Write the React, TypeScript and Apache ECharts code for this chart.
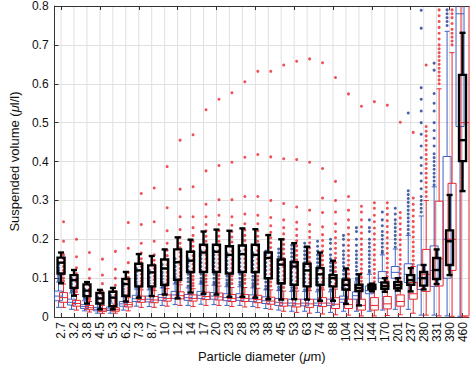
import React, { useEffect, useRef } from "react";
import * as echarts from "echarts";

const categories = ["2.7","3.2","3.8","4.5","5.3","6.2","7.3","8.7","10","12","14","17","20","23","28","33","38","45","53","63","74","88","104","122","144","170","201","237","280","331","390","460"];

// [lower whisker, q1, median, q3, upper whisker]
const blackStats = [
  [0.087,0.112,0.14,0.153,0.166],[0.055,0.075,0.095,0.108,0.121],[0.035,0.054,0.068,0.084,0.09],
  [0.02,0.035,0.048,0.062,0.07],[0.02,0.028,0.05,0.065,0.075],[0.04,0.055,0.085,0.098,0.116],
  [0.05,0.079,0.12,0.137,0.162],[0.054,0.079,0.115,0.133,0.157],[0.058,0.083,0.125,0.148,0.174],
  [0.048,0.096,0.141,0.174,0.205],[0.063,0.116,0.145,0.168,0.199],[0.06,0.116,0.166,0.186,0.22],
  [0.058,0.116,0.168,0.186,0.225],[0.052,0.112,0.16,0.182,0.222],[0.052,0.116,0.162,0.184,0.228],
  [0.05,0.116,0.16,0.186,0.226],[0.046,0.1,0.152,0.166,0.211],[0.045,0.087,0.135,0.148,0.2],
  [0.046,0.083,0.13,0.141,0.19],[0.045,0.079,0.12,0.137,0.181],[0.042,0.083,0.11,0.126,0.166],
  [0.042,0.079,0.1,0.108,0.145],[0.034,0.071,0.083,0.096,0.125],[0.03,0.067,0.075,0.083,0.11],
  [0.066,0.072,0.078,0.083,0.086],[0.065,0.073,0.08,0.089,0.1],[0.068,0.074,0.082,0.09,0.1],
  [0.066,0.083,0.095,0.108,0.126],[0.071,0.081,0.1,0.116,0.134],[0.085,0.098,0.121,0.152,0.174],
  [0.108,0.134,0.195,0.223,0.314],[0.324,0.401,0.455,0.623,0.731]
];

const blueStats = [
  [0.025,0.042,0.054,0.067,0.09],[0.02,0.031,0.038,0.046,0.062],[0.016,0.022,0.027,0.032,0.042],
  [0.01,0.016,0.02,0.025,0.034],[0.01,0.017,0.021,0.026,0.036],[0.018,0.028,0.034,0.04,0.052],
  [0.028,0.04,0.047,0.056,0.072],[0.027,0.039,0.046,0.054,0.07],[0.03,0.043,0.05,0.058,0.075],
  [0.032,0.048,0.057,0.066,0.085],[0.03,0.043,0.05,0.058,0.075],[0.033,0.048,0.056,0.066,0.085],
  [0.032,0.046,0.054,0.063,0.082],[0.03,0.042,0.05,0.06,0.078],[0.03,0.043,0.05,0.06,0.078],
  [0.027,0.04,0.047,0.057,0.075],[0.022,0.035,0.042,0.052,0.07],[0.018,0.03,0.038,0.048,0.068],
  [0.015,0.029,0.036,0.046,0.066],[0.015,0.029,0.036,0.046,0.066],[0.012,0.03,0.036,0.046,0.065],
  [0.012,0.03,0.036,0.046,0.065],[0.015,0.038,0.046,0.054,0.075],[0.015,0.046,0.055,0.065,0.09],
  [0.015,0.06,0.068,0.08,0.11],[0.018,0.089,0.1,0.117,0.16],[0.02,0.1,0.115,0.13,0.175],
  [0.02,0.089,0.11,0.137,0.21],[0.005,0.071,0.1,0.134,0.26],[0.005,0.079,0.12,0.183,0.335],
  [0.003,0.1,0.2,0.413,0.735],[0.002,0.49,0.78,0.95,1.2]
];

const redStats = [
  [0.025,0.038,0.05,0.063,0.085],[0.018,0.028,0.035,0.043,0.058],[0.013,0.019,0.024,0.03,0.04],
  [0.009,0.014,0.018,0.022,0.03],[0.01,0.015,0.019,0.024,0.033],[0.016,0.026,0.032,0.038,0.05],
  [0.025,0.038,0.045,0.054,0.07],[0.025,0.037,0.044,0.053,0.068],[0.028,0.041,0.048,0.057,0.073],
  [0.03,0.047,0.055,0.065,0.083],[0.027,0.041,0.048,0.057,0.073],[0.03,0.045,0.053,0.064,0.082],
  [0.03,0.044,0.052,0.062,0.08],[0.027,0.04,0.048,0.058,0.076],[0.026,0.04,0.048,0.058,0.076],
  [0.024,0.037,0.045,0.056,0.074],[0.02,0.033,0.041,0.051,0.07],[0.015,0.028,0.036,0.047,0.067],
  [0.012,0.026,0.034,0.046,0.067],[0.01,0.025,0.034,0.046,0.068],[0.008,0.027,0.036,0.05,0.07],
  [0.006,0.022,0.033,0.05,0.072],[0.005,0.022,0.032,0.046,0.068],[0.003,0.018,0.03,0.046,0.07],
  [0.003,0.018,0.03,0.05,0.075],[0.004,0.021,0.034,0.053,0.08],[0.006,0.028,0.04,0.057,0.085],
  [0.01,0.046,0.06,0.089,0.13],[0.005,0.066,0.11,0.174,0.3],[0.003,0.08,0.15,0.298,0.587],
  [0.002,0.12,0.2,0.344,0.68],[0.0,0.003,0.5,1.1,1.5]
];

const blueOutliers = [
  [0.135,0.127,0.12,0.113,0.106,0.099,0.093],
  [0.1,0.092,0.085,0.078,0.071,0.066],
  [0.072,0.065,0.058,0.052,0.047],
  [0.052,0.046,0.04,0.037],
  [0.056,0.05,0.044,0.04],
  [0.088,0.08,0.072,0.065,0.058,0.054],
  [0.125,0.116,0.107,0.099,0.091,0.084,0.077],
  [0.12,0.111,0.102,0.094,0.087,0.08,0.074],
  [0.135,0.125,0.115,0.106,0.098,0.09,0.083,0.078],
  [0.15,0.14,0.13,0.12,0.111,0.103,0.095,0.089],
  [0.15,0.14,0.13,0.12,0.11,0.1,0.091,0.08],
  [0.17,0.16,0.15,0.14,0.13,0.12,0.11,0.1,0.092,0.088],
  [0.17,0.16,0.15,0.14,0.13,0.12,0.11,0.1,0.09,0.085],
  [0.165,0.155,0.145,0.135,0.125,0.115,0.105,0.095,0.087,0.082],
  [0.17,0.16,0.15,0.14,0.13,0.12,0.11,0.1,0.09,0.083],
  [0.165,0.155,0.145,0.135,0.125,0.115,0.105,0.095,0.086,0.079],
  [0.17,0.16,0.15,0.14,0.13,0.12,0.11,0.1,0.09,0.08,0.073],
  [0.175,0.165,0.155,0.145,0.135,0.125,0.115,0.105,0.095,0.085,0.077,0.071],
  [0.185,0.175,0.165,0.155,0.145,0.135,0.125,0.115,0.105,0.095,0.085,0.076,0.069],
  [0.19,0.18,0.17,0.16,0.15,0.14,0.13,0.12,0.11,0.1,0.09,0.08,0.07],
  [0.195,0.182,0.17,0.16,0.15,0.14,0.13,0.12,0.11,0.1,0.09,0.08,0.07],
  [0.2,0.19,0.175,0.16,0.15,0.14,0.13,0.12,0.11,0.1,0.09,0.08,0.07],
  [0.21,0.2,0.185,0.17,0.16,0.15,0.14,0.13,0.12,0.11,0.1,0.09,0.08],
  [0.23,0.22,0.2,0.185,0.17,0.16,0.15,0.14,0.13,0.12,0.11,0.1,0.095],
  [0.25,0.23,0.22,0.2,0.19,0.18,0.17,0.16,0.15,0.14,0.13,0.12,0.115],
  [0.27,0.25,0.235,0.22,0.21,0.2,0.19,0.18,0.17,0.165],
  [0.28,0.265,0.25,0.24,0.23,0.22,0.21,0.2,0.19,0.18],
  [0.525,0.325,0.315,0.305,0.295,0.285,0.275,0.265,0.255,0.245,0.235,0.225,0.215],
  [0.789,0.743,0.59,0.56,0.53,0.5,0.47,0.44,0.41,0.39,0.37,0.35,0.33,0.31,0.3,0.29,0.28,0.27],
  [0.653,0.635,0.575,0.55,0.53,0.5,0.48,0.46,0.44,0.42,0.41,0.4,0.39,0.38,0.37,0.36,0.35,0.34],
  [0.79,0.78,0.77,0.76,0.75],
  []
];

const redOutliers = [
  [0.245,0.195,0.16,0.15,0.14,0.13,0.12,0.11,0.1,0.092],
  [0.2,0.155,0.127,0.112,0.1,0.09,0.08,0.072,0.065],
  [0.166,0.123,0.1,0.082,0.072,0.063,0.056,0.05,0.045],
  [0.149,0.108,0.086,0.066,0.056,0.048,0.042,0.036],
  [0.169,0.123,0.1,0.082,0.066,0.056,0.048,0.042,0.037],
  [0.243,0.177,0.14,0.115,0.102,0.092,0.083,0.075,0.068,0.061,0.055],
  [0.318,0.238,0.19,0.165,0.15,0.14,0.13,0.12,0.11,0.1,0.092,0.084,0.076],
  [0.332,0.245,0.195,0.16,0.146,0.135,0.125,0.115,0.105,0.096,0.087,0.078,0.072],
  [0.387,0.281,0.222,0.19,0.172,0.158,0.146,0.135,0.125,0.115,0.105,0.096,0.088,0.08],
  [0.455,0.329,0.258,0.225,0.205,0.19,0.178,0.166,0.155,0.145,0.135,0.125,0.115,0.106,0.097,0.09],
  [0.469,0.335,0.258,0.23,0.21,0.195,0.182,0.17,0.158,0.147,0.136,0.125,0.115,0.105,0.096,0.087,0.08],
  [0.533,0.376,0.29,0.258,0.238,0.222,0.208,0.195,0.183,0.171,0.16,0.149,0.138,0.127,0.117,0.107,0.098,0.09],
  [0.56,0.39,0.302,0.262,0.238,0.222,0.208,0.195,0.183,0.171,0.16,0.149,0.138,0.127,0.117,0.107,0.098,0.088],
  [0.577,0.398,0.302,0.258,0.236,0.22,0.206,0.193,0.181,0.17,0.159,0.148,0.137,0.126,0.116,0.106,0.096,0.086],
  [0.605,0.411,0.31,0.265,0.24,0.224,0.21,0.197,0.185,0.173,0.161,0.15,0.139,0.128,0.117,0.107,0.097,0.087],
  [0.632,0.418,0.31,0.262,0.24,0.222,0.208,0.195,0.183,0.171,0.16,0.149,0.138,0.127,0.116,0.105,0.095,0.085],
  [0.632,0.412,0.3,0.256,0.235,0.218,0.204,0.191,0.179,0.167,0.155,0.144,0.133,0.122,0.111,0.1,0.09,0.08],
  [0.648,0.407,0.292,0.25,0.23,0.214,0.2,0.187,0.175,0.163,0.151,0.14,0.129,0.118,0.107,0.096,0.086,0.076],
  [0.658,0.405,0.283,0.244,0.226,0.21,0.196,0.183,0.171,0.159,0.147,0.136,0.125,0.114,0.103,0.092,0.082,0.074],
  [0.664,0.398,0.275,0.238,0.22,0.205,0.191,0.178,0.166,0.154,0.142,0.131,0.12,0.109,0.098,0.088,0.078,0.072],
  [0.654,0.382,0.306,0.269,0.232,0.212,0.197,0.183,0.17,0.158,0.146,0.134,0.123,0.112,0.101,0.091,0.082,0.075],
  [0.616,0.349,0.3,0.27,0.24,0.22,0.204,0.19,0.177,0.164,0.152,0.14,0.128,0.117,0.106,0.096,0.086,0.078],
  [0.574,0.31,0.275,0.25,0.23,0.213,0.198,0.184,0.171,0.158,0.146,0.134,0.122,0.111,0.1,0.09,0.08,0.072],
  [0.542,0.285,0.27,0.25,0.232,0.216,0.201,0.187,0.174,0.161,0.148,0.136,0.124,0.113,0.102,0.092,0.083,0.075],
  [0.554,0.294,0.28,0.262,0.245,0.229,0.214,0.2,0.186,0.173,0.16,0.147,0.135,0.123,0.112,0.101,0.091,0.082],
  [0.545,0.294,0.28,0.264,0.248,0.233,0.218,0.204,0.19,0.177,0.164,0.151,0.139,0.127,0.115,0.104,0.094,0.086],
  [0.501,0.269,0.255,0.24,0.226,0.212,0.199,0.186,0.173,0.16,0.148,0.136,0.124,0.112,0.101,0.092],
  [0.475,0.306,0.29,0.275,0.26,0.246,0.232,0.219,0.206,0.193,0.181,0.169,0.157,0.146,0.136],
  [0.648,0.49,0.478,0.466,0.454,0.442,0.43,0.418,0.406,0.394,0.382,0.37,0.358,0.346,0.334,0.322,0.31],
  [0.79,0.775,0.76,0.745,0.73,0.715,0.7,0.69,0.68,0.67,0.66,0.65,0.64,0.63,0.62,0.61,0.6],
  [0.79,0.78,0.77,0.755,0.74,0.73,0.72,0.71,0.7],
  []
];

const Y_MIN = 0;
const Y_MAX = 0.8;
const Y_STEP = 0.1;

const BLUE = "#3d62c4";
const BLUE_DOT = "#1d3a8f";
const RED = "#e8262d";
const BLACK = "#000000";
const FONT = "'Liberation Sans', Arial, Helvetica, sans-serif";

function boxRenderer(offset: number, width: number, capW: number, lw: number, color: string) {
  return (params: any, api: any) => {
    const idx = api.value(0);
    const raw = [1, 2, 3, 4, 5].map((k) => api.value(k));
    const cl = (v: number) => Math.max(Y_MIN, Math.min(Y_MAX, v));
    const y = (v: number) => api.coord([idx, cl(v)])[1];
    const cx = api.coord([idx, 0])[0] + offset;
    const [lo, q1, med, q3, hi] = raw.map(y);
    const style = { stroke: color, lineWidth: lw, fill: null };
    const half = width / 2;
    const ch = capW / 2;
    const children: any[] = [];
    children.push({ type: "line", shape: { x1: cx, y1: q3, x2: cx, y2: hi }, style });
    children.push({ type: "line", shape: { x1: cx, y1: q1, x2: cx, y2: lo }, style });
    if (raw[4] <= Y_MAX) children.push({ type: "line", shape: { x1: cx - ch, y1: hi, x2: cx + ch, y2: hi }, style });
    children.push({ type: "line", shape: { x1: cx - ch, y1: lo, x2: cx + ch, y2: lo }, style });
    if (raw[3] <= Y_MAX) {
      children.push({ type: "rect", shape: { x: cx - half, y: q3, width, height: q1 - q3 }, style });
    } else {
      children.push({ type: "polyline", shape: { points: [[cx - half, q3], [cx - half, q1], [cx + half, q1], [cx + half, q3]] }, style });
    }
    if (raw[2] <= Y_MAX) children.push({ type: "line", shape: { x1: cx - half, y1: med, x2: cx + half, y2: med }, style });
    return { type: "group", children };
  };
}

export default function App() {
  const ref = useRef<HTMLDivElement>(null);
  useEffect(() => {
    if (!ref.current) return;
    const chart = echarts.init(ref.current, null, { renderer: "svg" });
    const toBox = (stats: number[][]) => stats.map((s, i) => [i, ...s]);
    const toPts = (lists: number[][]) => {
      const out: number[][] = [];
      lists.forEach((l, i) => l.forEach((v) => { if (v <= Y_MAX) out.push([i, v]); }));
      return out;
    };
    const gridRender = (params: any, api: any) => {
      const idx = api.value(0);
      const top = api.coord([idx, Y_MAX]);
      const bot = api.coord([idx, Y_MIN]);
      return { type: "line", shape: { x1: top[0], y1: top[1], x2: bot[0], y2: bot[1] }, style: { stroke: "#e0e0e0", lineWidth: 1 } };
    };
    chart.setOption({
      animation: false,
      backgroundColor: "#ffffff",
      grid: { left: 37, right: 5, top: 4, bottom: 41, containLabel: false },
      xAxis: [
        {
          type: "category",
          data: categories,
          boundaryGap: true,
          position: "bottom",
          axisLine: { show: true, lineStyle: { color: "#333", width: 1 } },
          axisTick: { show: true, alignWithLabel: true, inside: true, length: 4, lineStyle: { color: "#333" } },
          axisLabel: { rotate: 90, fontSize: 12, color: "#111", margin: 5, interval: 0, fontFamily: FONT },
          splitLine: { show: false },
          name: "Particle diameter ({i|μ}m)",
          nameLocation: "middle",
          nameGap: 29,
          nameTextStyle: { fontSize: 13, color: "#111", fontFamily: FONT, rich: { i: { fontStyle: "italic", fontSize: 13, fontFamily: FONT, color: "#111" } } },
        },
        {
          type: "category",
          data: categories,
          boundaryGap: true,
          position: "top",
          axisLine: { show: true, lineStyle: { color: "#333", width: 1 } },
          axisTick: { show: true, alignWithLabel: true, inside: true, length: 4, lineStyle: { color: "#333" } },
          axisLabel: { show: false },
          splitLine: { show: false },
        },
      ],
      yAxis: [
        {
          type: "value",
          min: Y_MIN,
          max: Y_MAX,
          interval: Y_STEP,
          axisLine: { show: true, lineStyle: { color: "#333", width: 1 } },
          axisTick: { show: true, inside: true, length: 4, lineStyle: { color: "#333" } },
          axisLabel: { fontSize: 12, color: "#111", margin: 6, fontFamily: FONT, formatter: (v: number) => (v === 0 ? "0" : v.toFixed(1)) },
          splitLine: { show: true, lineStyle: { color: "#e0e0e0", width: 1 } },
          name: "Suspended volume ({i|μ}l/l)",
          nameLocation: "middle",
          nameGap: 24,
          nameRotate: 90,
          nameTextStyle: { fontSize: 13, color: "#111", fontFamily: FONT, rich: { i: { fontStyle: "italic", fontSize: 13, fontFamily: FONT, color: "#111" } } },
        },
      ],
      series: [
        { type: "custom", z: 0, silent: true, data: categories.map((c, i) => [i]), encode: { x: 0 }, renderItem: gridRender },
        { type: "custom", z: 2, data: toBox(blueStats), encode: { x: 0, y: [1, 2, 3, 4, 5] }, renderItem: boxRenderer(-2.5, 8, 5, 1, BLUE) },
        { type: "custom", z: 3, data: toBox(redStats), encode: { x: 0, y: [1, 2, 3, 4, 5] }, renderItem: boxRenderer(2.5, 8, 5, 1, RED) },
        { type: "scatter", z: 4, data: toPts(blueOutliers), symbol: "circle", symbolSize: 3, symbolOffset: [-2.5, 0], itemStyle: { color: BLUE_DOT } },
        { type: "scatter", z: 5, data: toPts(redOutliers), symbol: "circle", symbolSize: 3, symbolOffset: [2.5, 0], itemStyle: { color: RED } },
        { type: "custom", z: 6, data: toBox(blackStats), encode: { x: 0, y: [1, 2, 3, 4, 5] }, renderItem: boxRenderer(0, 7, 6, 2.4, BLACK) },
      ],
    });
    return () => chart.dispose();
  }, []);
  return <div ref={ref} style={{ position: "absolute", left: 0, top: 0, width: 474, height: 368 }} />;
}
